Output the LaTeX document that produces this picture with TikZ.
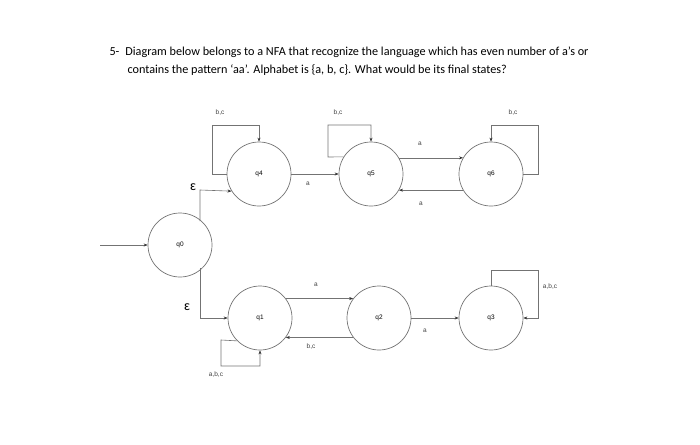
\documentclass[tikz,border=0pt]{standalone}
\usepackage{fontspec}
\setmainfont{Carlito}
\setsansfont{Liberation Sans}
\usetikzlibrary{arrows.meta}
\begin{document}
\begin{tikzpicture}[x=1pt,y=-1pt,
  st/.style={circle,draw=black!55,line width=0.7pt,minimum size=64pt,inner sep=0pt,font=\sffamily\fontsize{6.5}{7}\selectfont},
  ed/.style={draw=black!55,line width=0.6pt,-{Stealth[length=4pt,width=3pt,black!80]}},
  lb/.style={font=\sffamily\fontsize{6.5}{7}\selectfont,text=black!75},
  eps/.style={font=\fontsize{14}{15}\selectfont}]
\useasboundingbox (0,0) rectangle (700,444);
\node[anchor=base west,font=\fontsize{12.2}{14}\selectfont] (t1) at (106,56) {5-\hspace{6pt}Diagram below belongs to a NFA that recognize the language which has even number of a’s or};
\node[anchor=base west,font=\fontsize{12.2}{14}\selectfont] (t2) at (124,74) {contains the pattern ‘aa’. Alphabet is \{a, b, c\}. What would be its final states?};
\node[st] (q0) at (180,245) {q0};
\node[st] (q4) at (259,174) {q4};
\node[st] (q5) at (371,174) {q5};
\node[st] (q6) at (491,174) {q6};
\node[st] (q1) at (260,318) {q1};
\node[st] (q2) at (379,318) {q2};
\node[st] (q3) at (491,318) {q3};
\coordinate (s) at (100,245);
\draw[ed] (s) -- (q0.west);
\draw[ed] (200,221) -- (200,190) -- (q4.212);
\node[eps] (e1) at (193,187) {ɛ};
\draw[ed] (200,268) -- (200,318) -- (q1.west);
\node[eps] (e2) at (187,307) {ɛ};
% q4 loop
\draw[ed] (q4.west) -- (212,174) -- (212,125) -- (259,125) -- (q4.north);
\node[lb] at (220,113) {b,c};
\draw[ed] (q4.east) -- (q5.west);
\node[lb] at (308,184) {a};
% q5 loop
\draw[ed] (q5.148) -- (328,157) -- (328,125) -- (371,125) -- (q5.north);
\node[lb] at (338,113) {b,c};
\draw[ed] (q5.30) -- (q6.150);
\node[lb] at (420,144) {a};
\draw[ed] (q6.210) -- (q5.330);
\node[lb] at (421,204) {a};
% q6 loop
\draw[ed] (q6.east) -- (538,174) -- (538,125) -- (491,125) -- (q6.north);
\node[lb] at (513,113) {b,c};
% bottom
\draw[ed] (q1.37) -- (q2.143);
\node[lb] at (316,285) {a};
\draw[ed] (q2.217) -- (q1.323);
\node[lb] at (311,347) {b,c};
\draw[ed] (q1.225) -- (221,340) -- (221,366) -- (260,366) -- (q1.south);
\node[lb] at (216,375) {a,b,c};
\draw[ed] (q2.east) -- (q3.west);
\node[lb] at (425,331) {a};
\draw[ed] (q3.north) -- (491,270) -- (538,270) -- (538,318) -- (q3.east);
\node[lb] at (550,287) {a,b,c};
\end{tikzpicture}
\end{document}
